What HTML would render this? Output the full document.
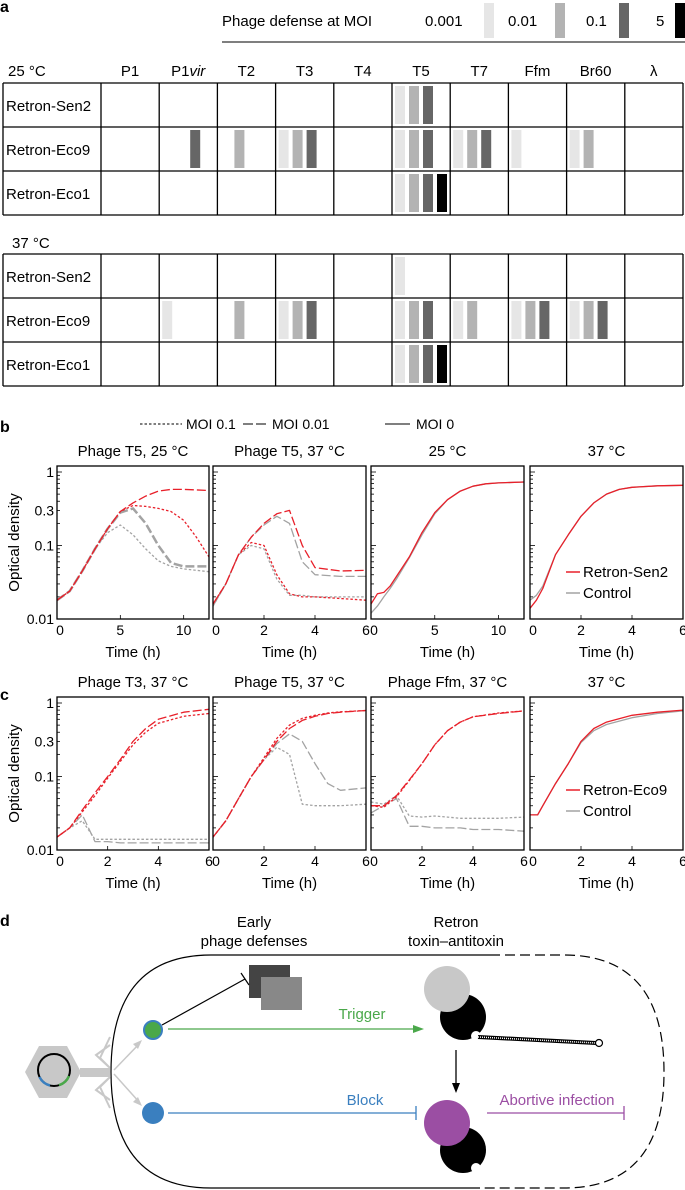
<!DOCTYPE html>
<html><head><meta charset="utf-8"><style>
body{margin:0;background:#fff}
svg{display:block;font-family:"Liberation Sans",sans-serif}
</style></head><body>
<svg id="fig" width="685" height="1190" viewBox="0 0 685 1190" xmlns="http://www.w3.org/2000/svg">
<g id="pa">
<text x="0" y="12" font-size="16" font-weight="bold">a</text>
<text x="222" y="26" font-size="15">Phage defense at MOI</text>
<text x="425" y="26" font-size="15">0.001</text>
<rect x="484" y="3" width="10" height="35" fill="#e6e6e6"/>
<text x="508" y="26" font-size="15">0.01</text>
<rect x="555" y="3" width="10" height="35" fill="#b3b3b3"/>
<text x="586" y="26" font-size="15">0.1</text>
<rect x="619" y="3" width="10" height="35" fill="#666"/>
<text x="656" y="26" font-size="15">5</text>
<rect x="675" y="3" width="10" height="35" fill="#000"/>
<line x1="222" y1="42" x2="685" y2="42" stroke="#333" stroke-width="1.2"/>
<text x="12" y="248" font-size="15">37 °C</text>
</g>
<g id="pb">
<text x="0" y="432" font-size="16" font-weight="bold">b</text>
<line x1="140" y1="424" x2="182" y2="424" stroke="#333" stroke-width="1.3" stroke-dasharray="2.5,2"/>
<text x="186" y="429" font-size="14">MOI 0.1</text>
<line x1="243" y1="424" x2="268" y2="424" stroke="#333" stroke-width="1.3" stroke-dasharray="10,3"/>
<text x="272" y="429" font-size="14">MOI 0.01</text>
<line x1="385" y1="424" x2="410" y2="424" stroke="#333" stroke-width="1.3"/>
<text x="416" y="429" font-size="14">MOI 0</text>
</g>
<g id="pc">
<text x="0" y="700" font-size="16" font-weight="bold">c</text>
</g>
<g id="pd">
<text x="0" y="926" font-size="16" font-weight="bold">d</text>
<text x="254" y="927" font-size="15" text-anchor="middle"><tspan x="254">Early</tspan><tspan x="254" dy="19">phage defenses</tspan></text>
<text x="456" y="927" font-size="15" text-anchor="middle"><tspan x="456">Retron</tspan><tspan x="456" dy="19">toxin–antitoxin</tspan></text>
<path d="M490,955 L211,955 Q111,955 111,1072 Q111,1188 211,1188 L480,1188" fill="none" stroke="#000" stroke-width="1.2"/>
<path d="M490,955 L564,955 Q664,955 664,1072 Q664,1188 564,1188 L480,1188" fill="none" stroke="#000" stroke-width="1.2" stroke-dasharray="10,5"/>
<rect x="249" y="965" width="41" height="33" fill="#444"/>
<rect x="261" y="977" width="41" height="33" fill="#888"/>
<g>
<polygon points="25,1072 39,1046 67,1046 81,1072 67,1098 39,1098" fill="#c8c8c8"/>
<rect x="80" y="1068" width="30" height="9" fill="#c8c8c8"/>
<path d="M110,1068 L96,1055 L110,1045 M110,1068 L100,1058 L110,1037 M110,1077 L96,1090 L110,1100 M110,1077 L100,1087 L110,1108" fill="none" stroke="#c8c8c8" stroke-width="2"/>
<circle cx="54" cy="1070" r="16" fill="none" stroke="#000" stroke-width="2"/>
<path d="M39.5,1077 A16,16 0 0,0 50,1085.5" fill="none" stroke="#3a7fbf" stroke-width="2.5"/>
<path d="M59,1085.2 A16,16 0 0,0 69,1076" fill="none" stroke="#4aa84a" stroke-width="2.5"/>
<path d="M114,1070 L140,1043 M114,1074 L140,1103" stroke="#c8c8c8" stroke-width="1.5"/>
<polygon points="142,1040 133,1044 138,1049" fill="#c8c8c8"/>
<polygon points="142,1106 133,1102 138,1097" fill="#c8c8c8"/>
</g>
<line x1="162" y1="1025" x2="245" y2="979" stroke="#000" stroke-width="1.2"/>
<line x1="241" y1="973" x2="249" y2="985" stroke="#000" stroke-width="1.2"/>
<circle cx="153" cy="1030" r="9" fill="#4aa84a" stroke="#3a7fbf" stroke-width="2"/>
<line x1="168" y1="1029" x2="415" y2="1029" stroke="#4aa84a" stroke-width="1.3"/>
<polygon points="424,1029 413,1025 413,1033" fill="#4aa84a"/>
<text x="362" y="1019" font-size="15" fill="#4aa84a" text-anchor="middle">Trigger</text>
<circle cx="153" cy="1113" r="11" fill="#3a7fbf"/>
<line x1="168" y1="1113" x2="416" y2="1113" stroke="#3a7fbf" stroke-width="1.3"/>
<line x1="416" y1="1106" x2="416" y2="1120" stroke="#3a7fbf" stroke-width="1.3"/>
<text x="365" y="1105" font-size="15" fill="#3a7fbf" text-anchor="middle">Block</text>
<g>
<circle cx="463" cy="1017" r="23" fill="#000"/>
<circle cx="476" cy="1036" r="5" fill="#fff"/>
<line x1="478" y1="1037" x2="596" y2="1043" stroke="#000" stroke-width="4"/>
<line x1="478" y1="1037" x2="596" y2="1043" stroke="#fff" stroke-width="1.5" stroke-dasharray="1,1"/>
<circle cx="599" cy="1043" r="3.5" fill="#fff" stroke="#000" stroke-width="1.2"/>
<circle cx="447" cy="989" r="23" fill="#c8c8c8"/>
</g>
<line x1="456" y1="1050" x2="456" y2="1085" stroke="#000" stroke-width="1.3"/>
<polygon points="456,1093 452,1083 460,1083" fill="#000"/>
<g>
<circle cx="463" cy="1150" r="23" fill="#000"/>
<circle cx="476" cy="1168" r="5" fill="#fff"/>
<circle cx="447" cy="1123" r="23" fill="#9b4ea3"/>
</g>
<text x="557" y="1105" font-size="15" fill="#9b4ea3" text-anchor="middle">Abortive infection</text>
<line x1="487" y1="1113" x2="624" y2="1113" stroke="#9b4ea3" stroke-width="1.3"/>
<line x1="624" y1="1106" x2="624" y2="1120" stroke="#9b4ea3" stroke-width="1.3"/>
</g>
</svg>
<script>
const NS="http://www.w3.org/2000/svg";
// ---------- panel a data ----------
const phages=["P1","P1vir","T2","T3","T4","T5","T7","Ffm","Br60","λ"];
const retrons=["Retron-Sen2","Retron-Eco9","Retron-Eco1"];
const moiColors=["#e6e6e6","#b3b3b3","#666666","#000000"];
// [row, phage index, MOI slot indices]
const defense25=[[0,5,[0,1,2]],[1,1,[2]],[1,2,[1]],[1,3,[0,1,2]],[1,5,[0,1,2]],[1,6,[0,1,2]],[1,7,[0]],[1,8,[0,1]],[2,5,[0,1,2,3]]];
const defense37=[[0,5,[0]],[1,1,[0]],[1,2,[1]],[1,3,[0,1,2]],[1,5,[0,1,2]],[1,6,[0,1]],[1,7,[0,1,2]],[1,8,[0,1,2]],[2,5,[0,1,2,3]]];

function mk(tag,attrs,parent){const e=document.createElementNS(NS,tag);for(const k in attrs)e.setAttribute(k,attrs[k]);parent.appendChild(e);return e;}
const pa=document.getElementById('pa');
const colX=i=>101+i*58.2;
// header
let h=mk('text',{x:8,y:76,'font-size':15},pa);h.textContent="25 °C";


phages.forEach((p,i)=>{
  const t=mk('text',{x:colX(i)+29,y:76,'font-size':15,'text-anchor':'middle'},pa);
  if(p==="P1vir"){t.innerHTML='P1<tspan font-style="italic">vir</tspan>';}else t.textContent=p;
  
  
});
function table(top,data,tag){
  const g=mk('g',{},pa);
  
  
  const rh=44;
  for(let r=0;r<3;r++){
    const t=mk('text',{x:6,y:top+r*rh+28,'font-size':15},g);t.textContent=retrons[r];
    
    
  }
  data.forEach(([r,c,slots])=>{
    slots.forEach(s=>{
      const b=mk('rect',{x:colX(c)+3+s*14,y:top+r*rh+3,width:10,height:rh-6,fill:moiColors[s]},g);
      
      
    });
  });
  for(let r=0;r<=3;r++)mk('line',{x1:3,x2:683,y1:top+r*rh,y2:top+r*rh,stroke:'#000','stroke-width':1.3},g);
  const xs=[3,101];for(let i=1;i<=10;i++)xs.push(colX(i));
  xs.forEach(x=>mk('line',{x1:x,x2:x,y1:top,y2:top+3*rh,stroke:'#000','stroke-width':1.3},g));
}
table(83,defense25,'25c');
table(254,defense37,'37c');

// ---------- chart data ----------
const tB1=[0,1,2,3,4,5,6,7,8,9,10,11,12];
const b1RedDash=[0.018,0.024,0.045,0.09,0.17,0.29,0.38,0.47,0.55,0.58,0.58,0.57,0.56];
const b1RedDot=[0.018,0.024,0.045,0.09,0.17,0.29,0.35,0.34,0.32,0.29,0.22,0.13,0.07];
const b1GrayDash=[0.018,0.024,0.045,0.09,0.17,0.28,0.32,0.2,0.1,0.058,0.052,0.052,0.052];
const b1GrayDot=[0.018,0.024,0.045,0.09,0.15,0.19,0.14,0.09,0.062,0.052,0.048,0.046,0.044];
const tB2=[0,0.5,1,1.5,2,2.5,3,3.5,4,5,6];
const b2RedDash=[0.016,0.03,0.075,0.13,0.2,0.27,0.3,0.1,0.05,0.045,0.046];
const b2GrayDash=[0.015,0.03,0.075,0.13,0.19,0.25,0.2,0.06,0.04,0.038,0.038];
const b2RedDot=[0.016,0.03,0.075,0.11,0.1,0.04,0.022,0.02,0.02,0.019,0.018];
const b2GrayDot=[0.015,0.03,0.075,0.1,0.09,0.035,0.021,0.021,0.02,0.02,0.02];
const tB3=[0,0.5,1,1.5,2,3,4,5,6,7,8,9,10,12];
const b3Red=[0.016,0.022,0.023,0.028,0.038,0.07,0.15,0.28,0.42,0.55,0.64,0.69,0.71,0.73];
const b3Gray=[0.012,0.015,0.02,0.026,0.035,0.068,0.14,0.27,0.42,0.55,0.64,0.69,0.71,0.73];
const tB4=[0,0.25,0.5,1,1.5,2,2.5,3,3.5,4,5,6];
const b4Red=[0.014,0.018,0.026,0.075,0.14,0.25,0.38,0.5,0.58,0.62,0.65,0.66];
const b4Gray=[0.018,0.021,0.028,0.075,0.14,0.25,0.38,0.5,0.58,0.62,0.65,0.66];
const tC1=[0,0.5,1,1.5,2,2.5,3,3.5,4,5,6];
const c1RedDash=[0.015,0.02,0.035,0.06,0.1,0.17,0.3,0.45,0.6,0.75,0.82];
const c1RedDot=[0.015,0.02,0.033,0.055,0.095,0.16,0.27,0.4,0.53,0.66,0.72];
const c1GrayDash=[0.015,0.02,0.03,0.013,0.013,0.0125,0.0125,0.0125,0.0125,0.0125,0.0125];
const c1GrayDot=[0.015,0.02,0.025,0.014,0.014,0.014,0.014,0.014,0.014,0.014,0.014];
const tC2=[0,0.5,1,1.5,2,2.5,3,3.5,4,4.5,5,6];
const c2RedDash=[0.015,0.025,0.05,0.1,0.17,0.3,0.45,0.58,0.66,0.72,0.75,0.79];
const c2RedDot=[0.015,0.025,0.05,0.1,0.18,0.33,0.5,0.62,0.68,0.73,0.76,0.79];
const c2GrayDash=[0.015,0.025,0.05,0.1,0.17,0.28,0.38,0.3,0.15,0.08,0.065,0.07];
const c2GrayDot=[0.015,0.025,0.05,0.1,0.17,0.25,0.2,0.042,0.04,0.04,0.04,0.042];
const tC3=[0,0.5,1,1.5,2,2.5,3,3.5,4,5,6];
const c3RedDash=[0.04,0.04,0.055,0.09,0.15,0.27,0.42,0.55,0.65,0.72,0.78];
const c3RedDot=[0.04,0.038,0.053,0.088,0.15,0.27,0.42,0.55,0.65,0.73,0.78];
const c3GrayDash=[0.032,0.04,0.05,0.021,0.021,0.02,0.02,0.02,0.019,0.019,0.018];
const c3GrayDot=[0.045,0.042,0.055,0.029,0.028,0.029,0.028,0.027,0.027,0.027,0.028];
const tC4=[0,0.3,0.5,1,1.5,2,2.5,3,4,5,6];
const c4Red=[0.03,0.03,0.04,0.08,0.15,0.3,0.45,0.55,0.68,0.75,0.8];
const c4Gray=[0.03,0.03,0.04,0.08,0.15,0.29,0.42,0.51,0.63,0.72,0.78];
const yTickVals=[0.01,0.1,0.3,1];
const yTickLabels=["0.01","0.1","0.3","1"];
const xTicks12=[0,5,10];
const xTicks6=[0,2,4,6];

const RED="#e8202a",GRAY="#a3a3a3";
const STY={dash:"9,3",dot:"2.5,2",solid:""};
const panelsX=[[57,209],[213,366],[371,524],[530,683]];

function chart(parent,pi,row,tmax,xticks,title,series,legend){
  const [x0,x1]=panelsX[pi];
  const yb=row==='b'?619:850, top=row==='b'?466:697;
  const dec=73.5;
  const X=t=>x0+t/tmax*(x1-x0);
  const Y=v=>yb-(Math.log10(v)+2)*dec;
  const g=mk('g',{},parent);
  
  
  const tt=mk('text',{x:(x0+x1)/2,y:top-10,'font-size':15,'text-anchor':'middle'},g);tt.textContent=title;
  
  
  // minor/major y ticks
  for(let d=-2;d<0;d++)for(let m=1;m<=9;m++){
    const v=m*Math.pow(10,d), y=Y(v);
    mk('line',{x1:x0,x2:x0+(m===1?5:3),y1:y,y2:y,stroke:'#000','stroke-width':0.8},g);
  }
  mk('line',{x1:x0,x2:x0+5,y1:Y(1),y2:Y(1),stroke:'#000','stroke-width':0.8},g);
  if(pi===0){
    yTickVals.forEach((v,i)=>{
      const t=mk('text',{x:x0-3,y:Y(v)+5,'font-size':14,'text-anchor':'end'},g);t.textContent=yTickLabels[i];
      
      
    });
    const yl=mk('text',{x:0,y:0,'font-size':15,'text-anchor':'middle',transform:`translate(19,${(top+yb)/2}) rotate(-90)`},g);
    yl.textContent="Optical density";
    
    
  }
  xticks.forEach(v=>{
    mk('line',{x1:X(v),x2:X(v),y1:yb,y2:yb-4,stroke:'#000','stroke-width':0.8},g);
    const t=mk('text',{x:X(v)+(v===0?3:0),y:yb+16,'font-size':14,'text-anchor':'middle'},g);t.textContent=v;
    
    
  });
  const xl=mk('text',{x:(x0+x1)/2,y:yb+38,'font-size':15,'text-anchor':'middle'},g);xl.textContent="Time (h)";
  
  
  series.forEach(s=>{
    const d=s.t.map((t,i)=>(i?'L':'M')+X(t).toFixed(1)+','+Y(s.v[i]).toFixed(1)).join('');
    const p=mk('path',{d:d,fill:'none',stroke:s.c,'stroke-width':s.w||1.3,'stroke-dasharray':STY[s.s],'stroke-linejoin':'round'},g);
    
    
  });
  mk('rect',{x:x0,y:top,width:x1-x0,height:yb-top,fill:'none',stroke:'#000','stroke-width':1.3},g);
  if(legend){
    const ly=row==='b'?572:790;
    [[RED,legend],[GRAY,"Control"]].forEach(([c,txt],i)=>{
      mk('line',{x1:566,x2:580,y1:ly+i*21,y2:ly+i*21,stroke:c,'stroke-width':1.5},g);
      const t=mk('text',{x:583,y:ly+i*21+5,'font-size':15},g);t.textContent=txt;
      
      
    });
  }
}
const pb=document.getElementById('pb'),pc=document.getElementById('pc');
chart(pb,0,'b',12,xTicks12,"Phage T5, 25 °C",[
 {t:tB1,v:b1GrayDot,c:GRAY,s:'dot',n:'b1-control-moi01'},
 {t:tB1,v:b1GrayDash,c:GRAY,s:'dash',w:2.5,n:'b1-control-moi001'},
 {t:tB1,v:b1RedDot,c:RED,s:'dot',n:'b1-retron-moi01'},
 {t:tB1,v:b1RedDash,c:RED,s:'dash',n:'b1-retron-moi001'}]);
chart(pb,1,'b',6,xTicks6,"Phage T5, 37 °C",[
 {t:tB2,v:b2GrayDot,c:GRAY,s:'dot',n:'b2-control-moi01'},
 {t:tB2,v:b2GrayDash,c:GRAY,s:'dash',n:'b2-control-moi001'},
 {t:tB2,v:b2RedDot,c:RED,s:'dot',n:'b2-retron-moi01'},
 {t:tB2,v:b2RedDash,c:RED,s:'dash',n:'b2-retron-moi001'}]);
chart(pb,2,'b',12,xTicks12,"25 °C",[
 {t:tB3,v:b3Gray,c:GRAY,s:'solid',n:'b3-control'},
 {t:tB3,v:b3Red,c:RED,s:'solid',n:'b3-retron'}]);
chart(pb,3,'b',6,xTicks6,"37 °C",[
 {t:tB4,v:b4Gray,c:GRAY,s:'solid',n:'b4-control'},
 {t:tB4,v:b4Red,c:RED,s:'solid',n:'b4-retron'}],"Retron-Sen2");
chart(pc,0,'c',6,xTicks6,"Phage T3, 37 °C",[
 {t:tC1,v:c1GrayDot,c:GRAY,s:'dot',n:'c1-control-moi01'},
 {t:tC1,v:c1GrayDash,c:GRAY,s:'dash',n:'c1-control-moi001'},
 {t:tC1,v:c1RedDot,c:RED,s:'dot',n:'c1-retron-moi01'},
 {t:tC1,v:c1RedDash,c:RED,s:'dash',n:'c1-retron-moi001'}]);
chart(pc,1,'c',6,xTicks6,"Phage T5, 37 °C",[
 {t:tC2,v:c2GrayDot,c:GRAY,s:'dot',n:'c2-control-moi01'},
 {t:tC2,v:c2GrayDash,c:GRAY,s:'dash',n:'c2-control-moi001'},
 {t:tC2,v:c2RedDot,c:RED,s:'dot',n:'c2-retron-moi01'},
 {t:tC2,v:c2RedDash,c:RED,s:'dash',n:'c2-retron-moi001'}]);
chart(pc,2,'c',6,xTicks6,"Phage Ffm, 37 °C",[
 {t:tC3,v:c3GrayDot,c:GRAY,s:'dot',n:'c3-control-moi01'},
 {t:tC3,v:c3GrayDash,c:GRAY,s:'dash',n:'c3-control-moi001'},
 {t:tC3,v:c3RedDot,c:RED,s:'dot',n:'c3-retron-moi01'},
 {t:tC3,v:c3RedDash,c:RED,s:'dash',n:'c3-retron-moi001'}]);
chart(pc,3,'c',6,xTicks6,"37 °C",[
 {t:tC4,v:c4Gray,c:GRAY,s:'solid',n:'c4-control'},
 {t:tC4,v:c4Red,c:RED,s:'solid',n:'c4-retron'}],"Retron-Eco9");
</script>
</body></html>
